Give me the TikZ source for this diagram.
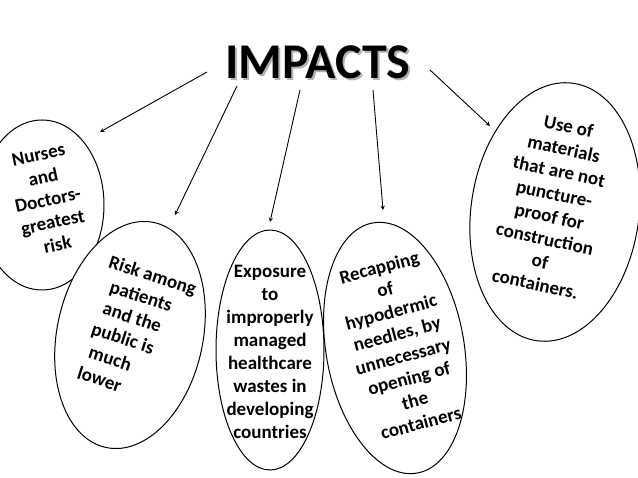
\documentclass[tikz,border=0pt]{standalone}
\usepackage{fontspec}
\setmainfont{Carlito}
\begin{document}
\begin{tikzpicture}[x=1pt,y=-1pt,
  ell/.style={draw,fill=white,line width=1pt},
  txt/.style={font=\bfseries\fontsize{19}{23}\selectfont,align=center},
  arr/.style={->,line width=0.9pt,>=stealth}]
\useasboundingbox (0,0) rectangle (638,478);
\node[font=\bfseries\fontsize{50}{52}\selectfont,text=gray!60] at (320,64) {IMPACTS};
\node (t) [font=\bfseries\fontsize{50}{52}\selectfont] at (318,62) {IMPACTS};
\draw[ell] (42,205) ellipse [x radius=62, y radius=85];
\node[txt,rotate=12] (n1) at (48,200) {Nurses\\and\\Doctors-\\greatest\\risk};
\draw[ell,rotate around={-12:(130,335)}] (130,335) ellipse [x radius=73, y radius=115];
\draw[ell] (270,350) ellipse [x radius=54, y radius=120];
\draw[ell,rotate around={10:(395,348)}] (395,348) ellipse [x radius=69, y radius=127];
\draw[ell,rotate around={-8:(555,212)}] (555,212) ellipse [x radius=84, y radius=130];
\node[txt,rotate=-18,align=left] (n2) at (135,330) {Risk among\\\ \ patients\\\ \ and the\\\ public is\\\ \ much\\\ lower};
\node[txt] (n3) at (270,352) {Exposure\\to\\improperly\\managed\\healthcare\\wastes in\\developing\\countries};
\node[txt,rotate=15] (n4) at (400,345) {Recapping\\of\\hypodermic\\needles, by\\unnecessary\\opening of\\the\\containers};
\node[txt,rotate=-12] (n5) at (552,205) {Use of\\materials\\that are not\\puncture-\\proof for\\construction\\of\\containers.};
\coordinate (a1) at (207,72); \coordinate (b1) at (100,132);
\coordinate (a2) at (237,86); \coordinate (b2) at (175,215);
\coordinate (a3) at (300,90); \coordinate (b3) at (270,222);
\coordinate (a4) at (373,90); \coordinate (b4) at (383,210);
\coordinate (a5) at (430,70); \coordinate (b5) at (490,126);
\foreach \i in {1,...,5} \draw[arr] (a\i) -- (b\i);
\end{tikzpicture}
\end{document}
